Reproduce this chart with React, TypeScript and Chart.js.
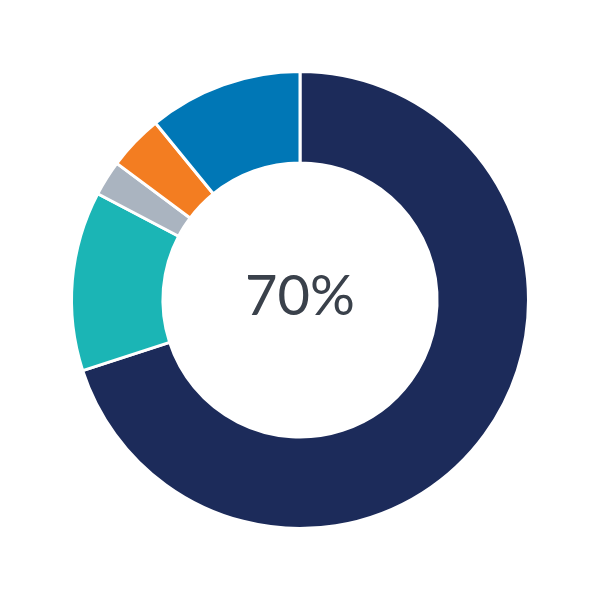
import React, { useEffect, useRef } from "react";
import { Chart, registerables } from "chart.js";

Chart.register(...registerables);

const categories = ["Navy", "Teal", "Gray", "Orange", "Blue"];
const values = [70, 12.7, 2.5, 3.9, 10.9];
const colors = ["#1c2b5a", "#1bb5b5", "#aab4c0", "#f37d21", "#0077b6"];
const centerLabel = "70%";

const centerText = {
  id: "centerText",
  afterDraw(chart: any) {
    const { ctx, chartArea } = chart;
    const cx = (chartArea.left + chartArea.right) / 2;
    const cy = (chartArea.top + chartArea.bottom) / 2;
    ctx.save();
    ctx.font = "400 56px Lato";
    ctx.fillStyle = "#3a414b";
    ctx.textAlign = "center";
    ctx.textBaseline = "middle";
    ctx.fillText(centerLabel, cx, cy - 3);
    ctx.restore();
  },
};

export default function App() {
  const ref = useRef<HTMLCanvasElement>(null);
  useEffect(() => {
    if (!ref.current) return;
    const chart = new Chart(ref.current, {
      type: "doughnut",
      data: {
        labels: categories,
        datasets: [
          {
            data: values,
            backgroundColor: colors,
            borderColor: "#ffffff",
            borderWidth: 3,
          },
        ],
      },
      options: {
        animation: false,
        responsive: true,
        maintainAspectRatio: false,
        cutout: "60%",
        layout: { padding: 62 },
        plugins: {
          legend: { display: false },
          tooltip: { enabled: false },
        },
      },
      plugins: [centerText],
    });
    return () => chart.destroy();
  }, []);
  return (
    <div style={{ width: 584, height: 584, position: "relative" }}>
      <canvas ref={ref} />
    </div>
  );
}
